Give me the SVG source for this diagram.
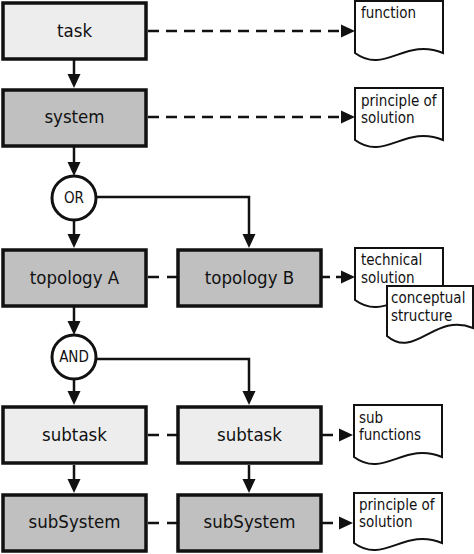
<svg xmlns="http://www.w3.org/2000/svg" width="474" height="554" viewBox="0 0 474 554">
<defs>
<marker id="ah" markerUnits="userSpaceOnUse" markerWidth="14" markerHeight="13" refX="0" refY="6.5" orient="auto" overflow="visible">
<path d="M0,0 L14,6.5 L0,13 Z" fill="#111"/>
</marker>
<style>
.light{fill:#ededed;stroke:#111;stroke-width:3.5}
.dark{fill:#c0c0c0;stroke:#111;stroke-width:3.5}
.bt{font-family:"DejaVu Sans Condensed","DejaVu Sans","Liberation Sans",sans-serif;font-stretch:condensed;font-size:18.5px;fill:#111;text-anchor:middle}
.dt{font-family:"DejaVu Sans Condensed","DejaVu Sans","Liberation Sans",sans-serif;font-stretch:condensed;font-size:15px;fill:#111}
.doc{fill:#fff;stroke:#111;stroke-width:2}
.gate{fill:#fff;stroke:#111;stroke-width:3}
.gt{font-family:"DejaVu Sans Condensed","DejaVu Sans","Liberation Sans",sans-serif;font-stretch:condensed;font-size:15px;fill:#111;text-anchor:middle}
.c{fill:none;stroke:#111;stroke-width:2.5}
.d{fill:none;stroke:#111;stroke-width:2.5;stroke-dasharray:11 7}
</style>
</defs>
<g id="connectors">
<path class="c" d="M74,60 V74" marker-end="url(#ah)"/>
<path class="c" d="M74,147 V162" marker-end="url(#ah)"/>
<path class="c" d="M74,220 V234" marker-end="url(#ah)"/>
<path class="c" d="M96,197 H249 V234" marker-end="url(#ah)"/>
<path class="c" d="M74,307 V321" marker-end="url(#ah)"/>
<path class="c" d="M74,379 V391" marker-end="url(#ah)"/>
<path class="c" d="M96,359 H249 V391" marker-end="url(#ah)"/>
<path class="c" d="M74,465 V479" marker-end="url(#ah)"/>
<path class="c" d="M249,465 V479" marker-end="url(#ah)"/>
<path class="d" d="M148,31 H341" marker-end="url(#ah)"/>
<path class="d" d="M148,117 H341" marker-end="url(#ah)"/>
<path class="d" d="M148,277 H178" style="stroke-dasharray:11 8"/>
<path class="d" d="M322,277 H341" style="stroke-dasharray:8 6" marker-end="url(#ah)"/>
<path class="d" d="M148,435 H178" style="stroke-dasharray:11 8"/>
<path class="d" d="M322,435 H339" style="stroke-dasharray:11 6" marker-end="url(#ah)"/>
<path class="d" d="M148,523 H178" style="stroke-dasharray:11 8"/>
<path class="d" d="M322,523 H339" style="stroke-dasharray:11 6" marker-end="url(#ah)"/>
</g>
<g id="task"><rect class="light" x="3" y="3" width="143" height="56"/><text class="bt" x="74.5" y="37">task</text></g>
<g id="system"><rect class="dark" x="3" y="90" width="143" height="56"/><text class="bt" x="74.5" y="123">system</text></g>
<g id="or"><circle class="gate" cx="74" cy="198" r="22"/><text class="gt" x="74" y="203">OR</text></g>
<g id="topologyA"><rect class="dark" x="3" y="250" width="143" height="56"/><text class="bt" x="74.5" y="284">topology A</text></g>
<g id="topologyB"><rect class="dark" x="178" y="250" width="143" height="56"/><text class="bt" x="249.5" y="284">topology B</text></g>
<g id="and"><circle class="gate" cx="74" cy="357" r="22"/><text class="gt" x="74" y="362">AND</text></g>
<g id="subtaskA"><rect class="light" x="3" y="407" width="143" height="56"/><text class="bt" x="74.5" y="441">subtask</text></g>
<g id="subtaskB"><rect class="light" x="178" y="407" width="143" height="56"/><text class="bt" x="249.5" y="441">subtask</text></g>
<g id="subSystemA"><rect class="dark" x="3" y="495" width="143" height="56"/><text class="bt" x="74.5" y="528">subSystem</text></g>
<g id="subSystemB"><rect class="dark" x="178" y="495" width="143" height="56"/><text class="bt" x="249.5" y="528">subSystem</text></g>
<g id="docFunction"><path class="doc" d="M355,1 H443 V53 C405,37 385,75 355,53 Z"/><text class="dt" x="361" y="18">function</text></g>
<g id="docPrinciple1"><path class="doc" d="M355,88 H443 V140 C405,124 385,162 355,140 Z"/><text class="dt" x="361" y="106">principle of</text><text class="dt" x="361" y="123">solution</text></g>
<g id="docTechnical"><path class="doc" d="M355,248 H443 V300 C405,284 385,322 355,300 Z"/><text class="dt" x="361" y="265">technical</text><text class="dt" x="361" y="283">solution</text></g>
<g id="docConceptual"><path class="doc" d="M387,286 H473 V328 C435,312 415,360 387,336 Z"/><text class="dt" x="391" y="303">conceptual</text><text class="dt" x="391" y="321">structure</text></g>
<g id="docSubFunctions"><path class="doc" d="M354,405 H442 V457 C404,441 384,479 354,457 Z"/><text class="dt" x="359" y="423">sub</text><text class="dt" x="359" y="440">functions</text></g>
<g id="docPrinciple2"><path class="doc" d="M354,493 H442 V543 C404,527 384,565 354,543 Z"/><text class="dt" x="359" y="510">principle of</text><text class="dt" x="359" y="527">solution</text></g>
</svg>
